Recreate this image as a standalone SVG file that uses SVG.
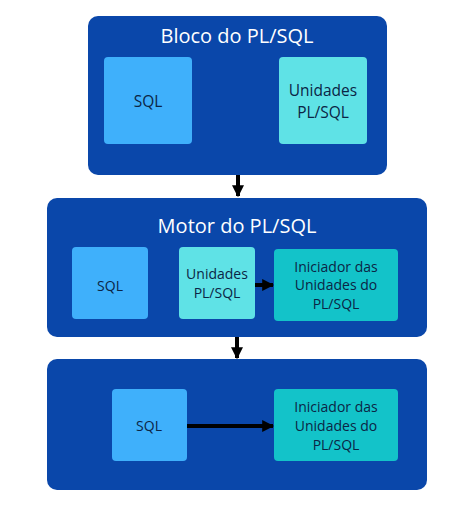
<svg xmlns="http://www.w3.org/2000/svg" width="474" height="506" viewBox="0 0 474 506">
<defs>
<style>
.outer{fill:#0a47aa;}
.sql{fill:#3fb0fb;}
.uni{fill:#5fe2e6;}
.ini{fill:#13c3c9;}
.title{font-family:"Open Sans","Noto Sans",sans-serif;font-size:20px;fill:#ffffff;text-anchor:middle;}
.lbl{font-family:"Open Sans","Noto Sans",sans-serif;font-size:14px;fill:#0b2545;text-anchor:middle;}
.big{font-size:15.5px;}
.conn{stroke:#000;stroke-width:4;fill:none;}
</style>
<marker id="ah" viewBox="0 0 10 10" refX="9" refY="5" markerWidth="3" markerHeight="3" orient="auto" markerUnits="strokeWidth">
<path d="M0,0 L10,5 L0,10 z" fill="#000"/>
</marker>
</defs>
<rect width="474" height="506" fill="#ffffff"/>
<g id="bloco">
<rect class="outer" x="88" y="16" width="299" height="159" rx="10"/>
<text class="title" x="237" y="43">Bloco do PL/SQL</text>
</g>
<g id="bloco-sql">
<rect class="sql" x="104" y="57" width="88" height="87" rx="4"/>
<text class="lbl big" x="148" y="107">SQL</text>
</g>
<g id="bloco-unidades">
<rect class="uni" x="279" y="57" width="88" height="87" rx="4"/>
<text class="lbl big" x="323" y="96">Unidades</text>
<text class="lbl big" x="323" y="118">PL/SQL</text>
</g>
<g id="motor">
<rect class="outer" x="47" y="198" width="380" height="139" rx="10"/>
<text class="title" x="237" y="233">Motor do PL/SQL</text>
</g>
<g id="motor-sql">
<rect class="sql" x="72" y="247" width="76" height="72" rx="4"/>
<text class="lbl" x="110" y="291">SQL</text>
</g>
<g id="motor-unidades">
<rect class="uni" x="179" y="247" width="76" height="72" rx="4"/>
<text class="lbl" x="217" y="279">Unidades</text>
<text class="lbl" x="217" y="298">PL/SQL</text>
</g>
<g id="motor-iniciador">
<rect class="ini" x="274" y="249" width="124" height="72" rx="4"/>
<text class="lbl" x="336" y="272">Iniciador das</text>
<text class="lbl" x="336" y="290">Unidades do</text>
<text class="lbl" x="336" y="309">PL/SQL</text>
</g>
<g id="exec">
<rect class="outer" x="47" y="359" width="380" height="131" rx="10"/>
</g>
<g id="exec-sql">
<rect class="sql" x="112" y="389" width="75" height="72" rx="4"/>
<text class="lbl" x="149" y="431">SQL</text>
</g>
<g id="exec-iniciador">
<rect class="ini" x="274" y="389" width="124" height="72" rx="4"/>
<text class="lbl" x="336" y="412">Iniciador das</text>
<text class="lbl" x="336" y="431">Unidades do</text>
<text class="lbl" x="336" y="450">PL/SQL</text>
</g>
<g id="connectors">
<line class="conn" x1="238" y1="175" x2="238" y2="196" marker-end="url(#ah)"/>
<line class="conn" x1="237" y1="337" x2="237" y2="358" marker-end="url(#ah)"/>
<line class="conn" x1="255" y1="285" x2="273" y2="285" marker-end="url(#ah)"/>
<line class="conn" x1="187" y1="426" x2="273" y2="426" marker-end="url(#ah)"/>
</g>
</svg>
